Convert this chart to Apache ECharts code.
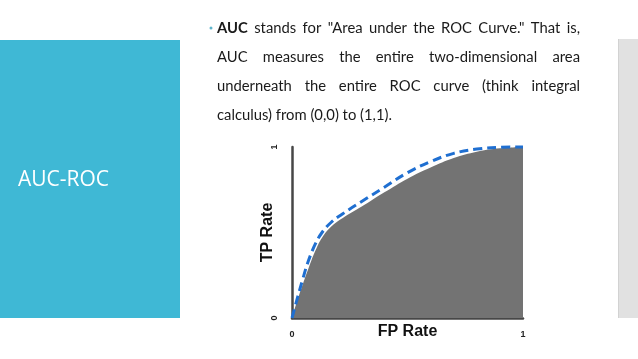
<!DOCTYPE html>
<html><head><meta charset="utf-8">
<script src="https://cdn.jsdelivr.net/npm/echarts@6/dist/echarts.min.js"></script>
<style>html,body{margin:0;padding:0;background:#fff}#c{width:638px;height:359px}</style>
</head><body><div id="c"></div>
<script>
// ---- data ----
const fillFpr = [0, 0.02, 0.045, 0.07, 0.1, 0.13, 0.17, 0.22, 0.3, 0.4, 0.5, 0.6, 0.7, 0.8, 0.9, 1];
const fillTpr = [0, 0.09, 0.19, 0.285, 0.39, 0.47, 0.535, 0.585, 0.65, 0.735, 0.815, 0.88, 0.935, 0.972, 0.992, 1];
const curveFpr = [0, 0.02, 0.045, 0.07, 0.1, 0.13, 0.17, 0.22, 0.3, 0.4, 0.5, 0.6, 0.7, 0.8, 0.9, 1];
const curveTpr = [0, 0.1, 0.22, 0.33, 0.43, 0.5, 0.56, 0.61, 0.68, 0.765, 0.85, 0.915, 0.963, 0.988, 0.998, 1];
const xName = 'FP Rate';
const yName = 'TP Rate';
const tickLabels = ['0', '1'];
const sideTitle = 'AUC-ROC';
const paragraphLines = [
  [{t:'AUC', b:true}, {t:'stands'}, {t:'for'}, {t:'"Area'}, {t:'under'}, {t:'the'}, {t:'ROC'}, {t:'Curve."'}, {t:'That'}, {t:'is,'}],
  ['AUC','measures','the','entire','two-dimensional','area'].map(t=>({t})),
  ['underneath','the','entire','ROC','curve','(think','integral'].map(t=>({t})),
  ['calculus)','from','(0,0)','to','(1,1).'].map(t=>({t}))
];

// ---- layout helpers ----
const FONT_FAMILY = 'Lato, "Open Sans", sans-serif';
const FONT_SIZE = 14.8;
const textLeft = 217, textRight = 580;
const lineY = [28, 57, 86, 115];
const cnv = document.createElement('canvas').getContext('2d');
function measure(t, bold){ cnv.font = (bold?'bold ':'') + FONT_SIZE + 'px ' + FONT_FAMILY; return cnv.measureText(t).width; }

const graphics = [
  {type:'rect', shape:{x:0, y:40, width:180, height:278}, style:{fill:'#3fb8d5'}, z:-1},
  {type:'text', x:18, y:180, style:{text:sideTitle, fill:'#ffffff', font:'21px "Open Sans", sans-serif', textVerticalAlign:'middle'}},
  {type:'rect', shape:{x:618, y:39, width:20, height:279}, style:{fill:'#e1e1e1'}, z:-1},
  {type:'rect', shape:{x:618, y:39, width:1, height:279}, style:{fill:'#d2d2d2'}, z:-1},
  {type:'circle', shape:{cx:211, cy:28, r:1.5}, style:{fill:'#5fb5cc'}}
];
paragraphLines.forEach((words, i) => {
  const widths = words.map(w => measure(w.t, w.b));
  const total = widths.reduce((a,b)=>a+b,0);
  const justify = i < paragraphLines.length - 1;
  const gap = justify ? (textRight - textLeft - total) / (words.length - 1) : measure(' ', false);
  let x = textLeft;
  words.forEach((w, j) => {
    graphics.push({type:'text', x:x, y:lineY[i], style:{text:w.t, fill:'#1a1a1a',
      font:(w.b?'bold ':'') + FONT_SIZE + 'px ' + FONT_FAMILY, textVerticalAlign:'middle'}});
    x += widths[j] + gap;
  });
});

const chart = echarts.init(document.getElementById('c'), null, {renderer:'canvas'});
const axisCommon = {
  type:'value', min:0, max:1, interval:1,
  splitLine:{show:false}, axisTick:{show:false},
  axisLine:{show:true, lineStyle:{color:'#474747', width:2.5}},
  nameLocation:'middle', nameMoveOverlap:false,
  nameTextStyle:{fontFamily:'"Liberation Sans", Arial, sans-serif', fontWeight:'bold', fontSize:16, color:'#111'},
};
chart.setOption({
  animation:false,
  backgroundColor:'#ffffff',
  grid:{left:292, right:115, top:147, bottom:41},
  xAxis:Object.assign({}, axisCommon, {
    name:xName, nameGap:6,
    axisLabel:{margin:12, fontSize:9, fontWeight:'bold', color:'#222', fontFamily:'"Liberation Sans", Arial, sans-serif',
      formatter:v => tickLabels[v]}
  }),
  yAxis:Object.assign({}, axisCommon, {
    name:yName, nameGap:16, nameRotate:90,
    axisLabel:{margin:13, rotate:90, fontSize:9, fontWeight:'bold', color:'#222', fontFamily:'"Liberation Sans", Arial, sans-serif',
      formatter:v => tickLabels[v]}
  }),
  series:[
    {type:'line', data:fillFpr.map((x,i)=>[x, fillTpr[i]]), smooth:0.4, symbol:'none',
      lineStyle:{width:0}, areaStyle:{color:'#737373', opacity:1}, z:1},
    {type:'line', data:curveFpr.map((x,i)=>[x, curveTpr[i]]), smooth:0.4, symbol:'none', clip:false,
      lineStyle:{color:'#1f6fd1', width:3, type:[9,5]}, z:3}
  ],
  graphic:graphics
});
</script></body></html>
